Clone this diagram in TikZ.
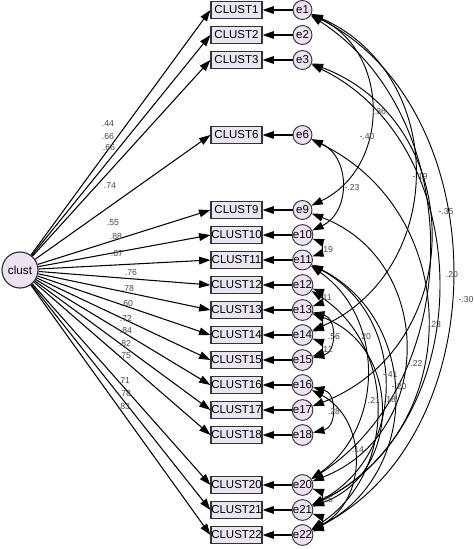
\documentclass[tikz,border=0pt]{standalone}
\usepackage{fontspec}
\setmainfont{Liberation Sans}
\usetikzlibrary{arrows.meta}
\definecolor{boxfill}{RGB}{234,229,243}
\definecolor{errfill}{RGB}{236,226,244}
\definecolor{estgray}{RGB}{70,70,70}
\tikzset{
    % Solid triangular heads, as the path diagram draws them
    >={Triangle[length=3.4mm,width=2.3mm]},
%
    % Observed indicator of the factor
    indicator/.style={
        draw=black!80, line width=1pt, fill=boxfill,
        minimum width=15.3mm, minimum height=5.1mm, inner sep=0pt,
        font=\fontsize{9.8}{10}\selectfont},
%
    % Unique error term of an indicator
    error term/.style={
        draw=black!80, line width=0.8pt, circle, fill=errfill,
        minimum size=5.7mm, inner sep=0pt, font=\fontsize{9.8}{10}\selectfont},
%
    % The latent factor
    latent/.style={
        draw=black!80, line width=1pt, circle, fill=errfill,
        minimum size=10.8mm, inner sep=0pt, font=\fontsize{10}{11}\selectfont},
%
    % Estimates printed beside the paths
    estimate/.style={text=estgray, inner sep=0pt, font=\fontsize{7.4}{8}\selectfont},
    path line/.style={line width=0.9pt, ->},
    covariance/.style={line width=0.8pt, <->}}

\begin{document}
\begin{tikzpicture}[x=0.3mm, y=-0.3mm]
\useasboundingbox (0,0) rectangle (474,549);

\node (clust) [latent] at (20,270) {clust};

\foreach \i/\y in {1/10, 2/35, 3/60, 6/135, 9/210, 10/235, 11/260, 12/285,
        13/310, 14/335, 15/360, 16/385, 17/410, 18/435, 20/485, 21/510, 22/535}
{
    \node (c\i) [indicator] at (236.5,\y) {CLUST\i};
    \node (e\i) [error term] at (302.5,\y) {e\i};
    \draw [path line] (e\i) -- (c\i);
    \draw [path line] (clust) -- (c\i.west);
}

% standardised loadings
\foreach \x/\y/\t [count=\k] in {108/124/.44, 108/137/.66, 109/148/.66,
        110/186/.74, 113/223/.55, 116/237/.88, 117/254/.67, 131/273/.76,
        128/289/.78, 127/304/.60, 126/318/.72, 126/331/.84, 125/344/.82,
        125/356/.75, 124/381/.71, 125/394/.78, 124/407/.83}
    \node (w\k) [estimate] at (\x,\y) {\t};

% correlated errors
\foreach \a/\b/\bend/\loose in {1/9/64/1.18, 6/10/65/1.2, 3/17/69/1.25,
        1/14/66/1.2, 1/20/57/1.03, 3/21/64/1.08, 1/22/63/1.04, 6/21/64/1.19,
        9/20/69/1.26, 11/21/62/1.16, 11/22/63/1.18, 11/20/55/1.08,
        12/22/57/1.1, 13/21/70/1.27, 16/22/62/1.16, 13/15/77/1.4,
        16/18/77/1.4, 10/11/70/1.5, 12/13/70/1.5, 13/14/70/1.5,
        14/15/70/1.5, 20/21/70/1.5, 21/22/70/1.5}
    \draw [covariance] (e\a) to [bend left=\bend, looseness=\loose] (e\b);

\foreach \x/\y/\t [count=\k] in {367/137/-.40, 352/188/-.23, 380/112/.36,
        420/177/-.19, 446/212/-.35, 452/275/.20, 466/300/-.30, 435/325/.23,
        415/363/-.22, 390/375/-.41, 399/387/-.20, 374/400/.21, 390/400/.18,
        365/337/.20, 334/337/.56, 334/412/.28, 358/450/.14, 327/250/.19,
        326/298/.11, 327/349/.12, 327/500/.15}
    \node (r\k) [estimate] at (\x,\y) {\t};

\end{tikzpicture}
\end{document}
